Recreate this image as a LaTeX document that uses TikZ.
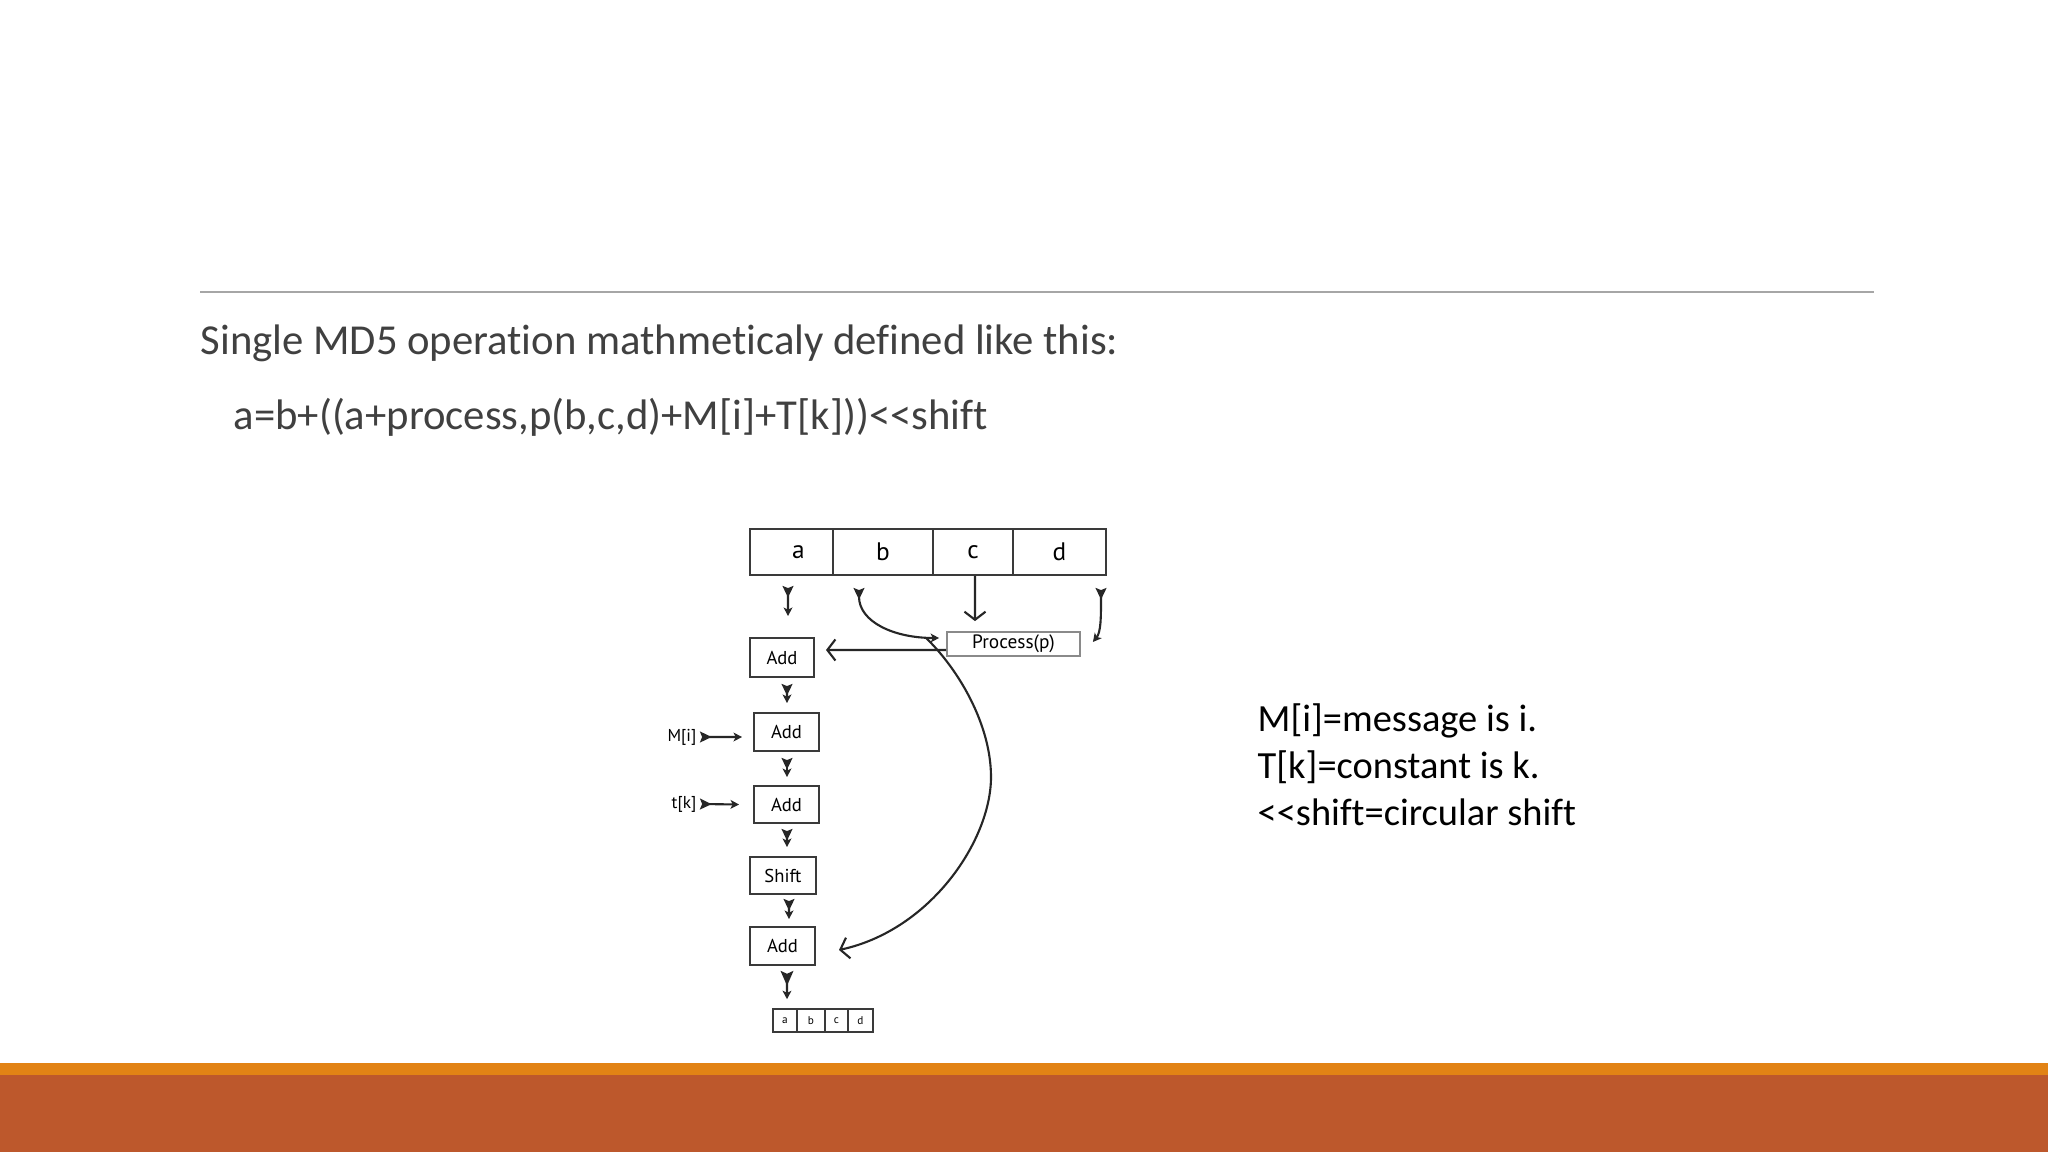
\documentclass[tikz,border=0pt]{standalone}
\usepackage{fontspec}
\setmainfont{Carlito}[Ligatures=NoCommon]
\newfontfamily\diagfont{PT Sans}
\usetikzlibrary{arrows.meta}
\definecolor{txtgray}{HTML}{404040}
\definecolor{rulegray}{HTML}{A6A6A6}
\definecolor{bandorange}{HTML}{E28315}
\definecolor{bandrust}{HTML}{BD582C}
\definecolor{boxgray}{HTML}{3A3A3A}
\definecolor{procgray}{HTML}{8A8A8A}
\tikzset{
  myfl/.tip={Stealth[reversed,length=3.3pt,width=3.1pt,inset=0.6pt]},
  mybigfl/.tip={Stealth[reversed,length=4.2pt,width=3.6pt,inset=0.8pt]},
  mysm/.tip={Stealth[length=2.4pt,width=2.5pt,inset=0.6pt]},
  mybig/.tip={Straight Barb[length=2.3pt,width=6pt]},
  conn/.style={draw=black!85, line width=0.6pt},
  regbox/.style={draw=boxgray, line width=0.55pt, minimum height=0.46cm, inner sep=0pt,
    font=\diagfont\fontsize{7.2}{8}\selectfont},
  procbox/.style={draw=procgray, line width=0.5pt, minimum width=1.33cm, minimum height=0.24cm,
    inner sep=0pt, font=\diagfont\fontsize{5.5}{6}\selectfont},
  opbox/.style={draw=boxgray, line width=0.55pt, minimum width=0.65cm, minimum height=0.38cm,
    inner sep=0pt, font=\diagfont\fontsize{5.3}{6}\selectfont},
  smallreg/.style={draw=boxgray, line width=0.45pt, minimum height=0.23cm, inner sep=0pt,
    font=\diagfont\fontsize{3.2}{4}\selectfont},
  lbl/.style={inner sep=0pt, font=\diagfont\fontsize{4.9}{6}\selectfont},
  bodytxt/.style={anchor=base west, inner sep=0pt, text=txtgray, font=\fontsize{12.14}{14.6}\selectfont},
  notetxt/.style={anchor=base west, inner sep=0pt, text=black, font=\fontsize{10.93}{13.3}\selectfont}
}
\begin{document}
\begin{tikzpicture}[x=0.01cm,y=-0.01cm]
\useasboundingbox (0,0) rectangle (2048,1152);
\fill[white] (0,0) rectangle (2048,1152);
% bottom bands and rule
\fill[bandorange] (0,1063) rectangle (2048,1076);
\fill[bandrust] (0,1075) rectangle (2048,1152);
\draw[rulegray, line width=0.6pt] (200,292) -- (1874,292);

% slide text
\node[bodytxt] (title) at (200,355) {Single MD5 operation mathmeticaly defined like this:};
\node[bodytxt] (formula) at (233,430) {a=b+((a+process,p(b,c,d)+M[i]+T[k]))<{}<shift};
\node[notetxt] (note1) at (1257,731) {M[i]=message is i.};
\node[notetxt] (note2) at (1257,778) {T[k]=constant is k.};
\node[notetxt] (note3) at (1257,825) {<{}<shift=circular shift};

% register a b c d
\node[regbox, minimum width=0.83cm] (ra) at (791.5,552) {\hspace{0.14cm}a};
\node[regbox, minimum width=1.00cm] (rb) at (883,552) {b};
\node[regbox, minimum width=0.80cm] (rc) at (973,552) {c};
\node[regbox, minimum width=0.93cm] (rd) at (1059.5,552) {d};

% process box
\node[procbox] (proc) at (1013.5,644) {Process(p)};

% operation boxes
\node[opbox, minimum width=0.64cm, minimum height=0.39cm] (add1) at (782,657.5) {Add};
\node[opbox] (add2) at (786.5,732) {Add};
\node[opbox, minimum height=0.37cm] (add3) at (786.5,804.5) {Add};
\node[opbox, minimum width=0.66cm, minimum height=0.37cm] (shift) at (783,875.5) {Shift};
\node[opbox] (add4) at (782.5,946) {Add};

% output register
\node[smallreg, minimum width=0.24cm] (ba) at (785,1020.5) {a};
\node[smallreg, minimum width=0.28cm] (bb) at (811,1020.5) {b};
\node[smallreg, minimum width=0.23cm] (bc) at (836.5,1020.5) {c};
\node[smallreg, minimum width=0.25cm] (bd) at (860.5,1020.5) {d};

% side inputs
\node[lbl, anchor=east] (mi) at (697,737) {M[i]};
\node[lbl, anchor=east] (tk) at (697,804) {t[k]};

% connectors from the register
\draw[conn, {myfl}-{mysm}] ([xshift=-0.035cm,yshift=-0.1cm]ra.south) -- ([xshift=0.06cm,yshift=0.21cm]add1.north);
\draw[conn, {myfl}-{mysm}] ([xshift=-0.24cm,yshift=-0.12cm]rb.south) .. controls +(0,34) and +(-45,0) .. ([xshift=-0.07cm,yshift=0.06cm]proc.west);
\draw[conn, -{mybig}] ([xshift=0.02cm]rc.south) -- ([xshift=-0.385cm,yshift=0.1cm]proc.north);
\draw[conn, {myfl}-{mysm}] ([xshift=0.415cm,yshift=-0.12cm]rd.south) .. controls +(0,30) and +(8,-10) .. ([xshift=0.12cm,yshift=0.02cm]proc.east);

% process to first add
\draw[conn, -{mybig}] ([yshift=-0.06cm]proc.west) -- ([xshift=0.11cm,yshift=0.075cm]add1.east);

% b feeds the final add
\coordinate (bulge) at (991,777);
\draw[conn, -{mybig}] ([xshift=-0.2cm,yshift=0.06cm]proc.west) .. controls +(33,32) and +(0,-52) .. (bulge)
  .. controls +(0,63) and +(92,-20) .. ([xshift=0.23cm,yshift=-0.04cm]add4.east);

% chain
\draw[conn, {myfl}-{mysm}] ([xshift=0.05cm,yshift=-0.06cm]add1.south) -- ([xshift=0.005cm,yshift=0.09cm]add2.north);
\draw[conn, {myfl}-{mysm}] ([xshift=0.005cm,yshift=-0.06cm]add2.south) -- ([xshift=0.005cm,yshift=0.08cm]add3.north);
\draw[conn, {myfl}-{mysm}] ([xshift=0.005cm,yshift=-0.05cm]add3.south) -- ([xshift=0.04cm,yshift=0.09cm]shift.north);
\draw[conn, {myfl}-{mysm}] ([xshift=0.06cm,yshift=-0.04cm]shift.south) -- ([xshift=0.065cm,yshift=0.07cm]add4.north);
\draw[conn, {mybigfl}-{mysm}] ([xshift=0.045cm,yshift=-0.05cm]add4.south) -- ([xshift=0.02cm,yshift=0.09cm]ba.north);

% side input arrows
\draw[conn, {myfl}-{mysm}] ([xshift=0.03cm]mi.east) -- ([xshift=-0.11cm,yshift=-0.05cm]add2.west);
\draw[conn, {myfl}-{mysm}] ([xshift=0.03cm]tk.east) -- ([xshift=-0.14cm]add3.west);
\end{tikzpicture}
\end{document}
